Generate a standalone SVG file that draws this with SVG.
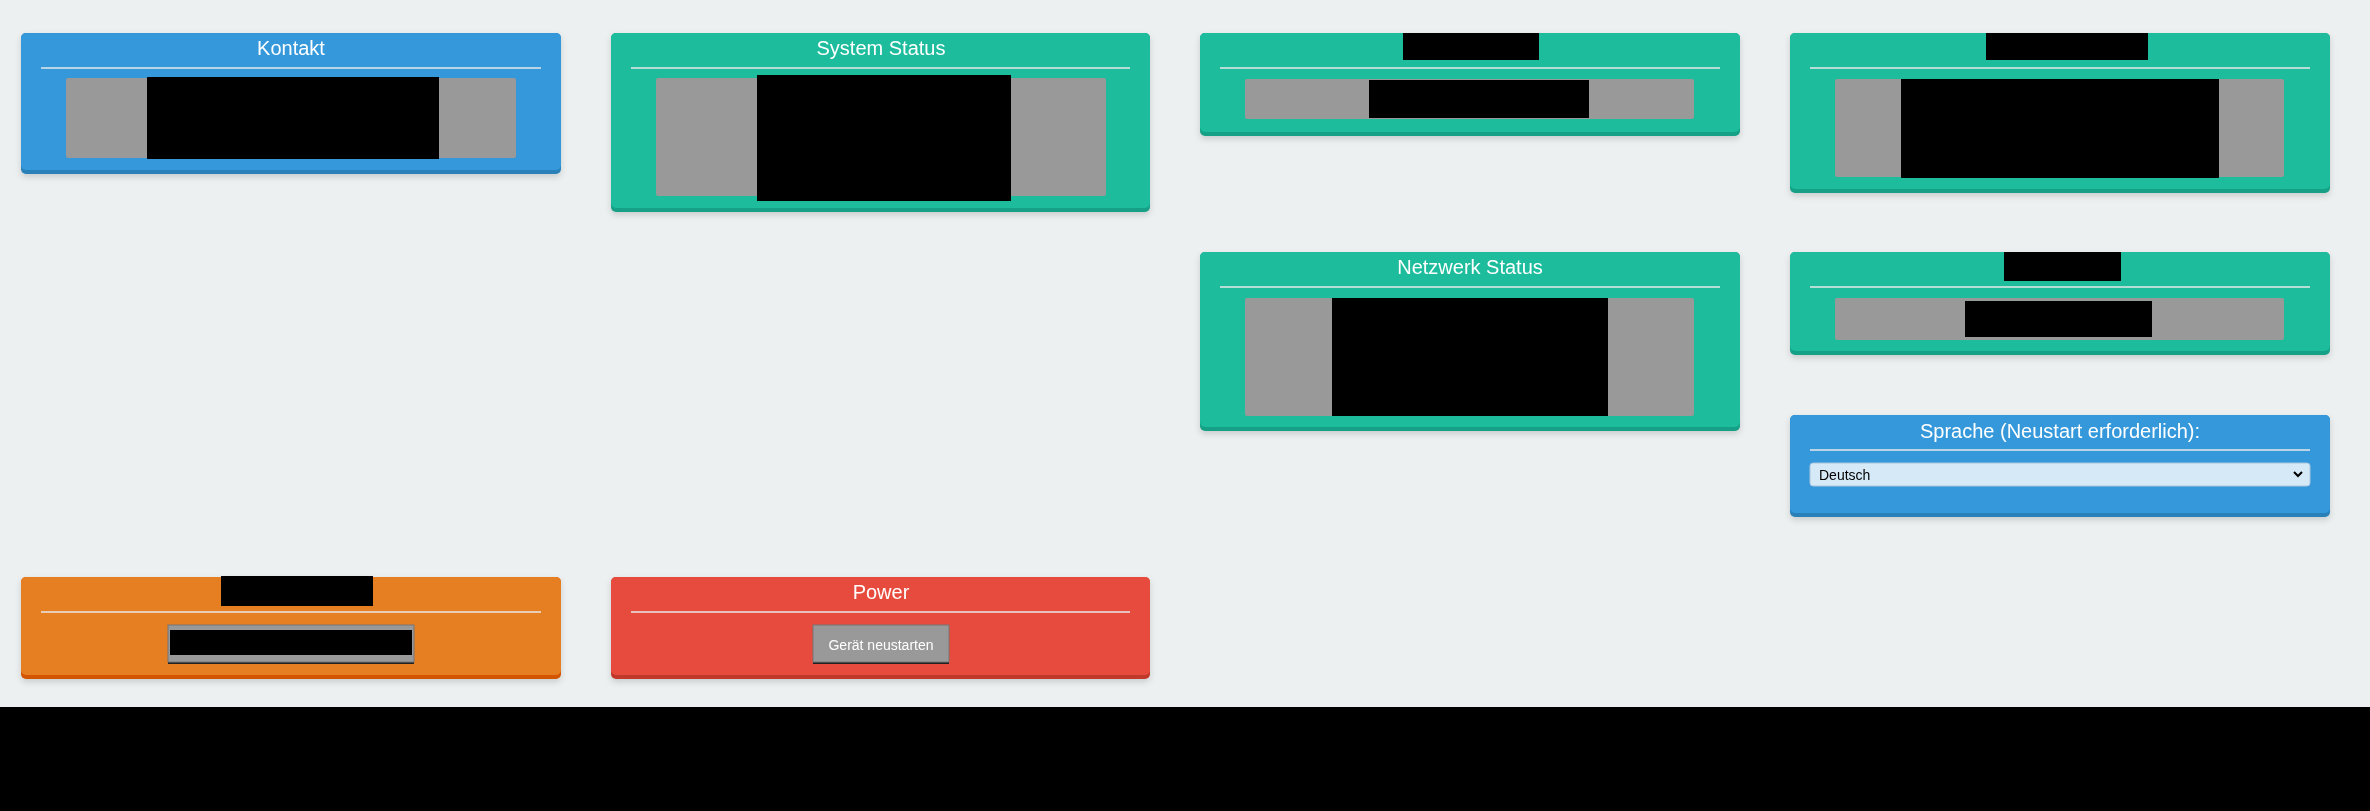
<svg xmlns="http://www.w3.org/2000/svg" width="2370" height="811" viewBox="0 0 2370 811">
<defs>
<filter id="sh" x="-5%" y="-10%" width="110%" height="130%"><feDropShadow dx="0" dy="3" stdDeviation="3" flood-color="#000" flood-opacity="0.15"/></filter>
</defs>
<style>
.t{font-family:"Liberation Sans",Arial,sans-serif;font-size:20px;fill:#fff;text-anchor:middle}
.sep{stroke:#e8e8e8;stroke-width:1.5}
.g{fill:#999}
.k{fill:#000}
</style>
<rect width="2370" height="811" fill="#ecf0f1"/>
<g id="kontakt" filter="url(#sh)">
<rect x="21" y="33" width="540" height="141" rx="5" fill="#2980b9"/>
<rect x="21" y="33" width="540" height="137" rx="5" fill="#3498db"/>
<text class="t" x="291" y="55">Kontakt</text>
<line class="sep" x1="41" y1="68" x2="541" y2="68"/>
<rect class="g" x="66" y="78" width="450" height="80" rx="2"/>
<rect class="k" x="147" y="77" width="292" height="82"/>
</g>
<g id="system-status" filter="url(#sh)">
<rect x="611" y="33" width="539" height="179" rx="5" fill="#16a085"/>
<rect x="611" y="33" width="539" height="175" rx="5" fill="#1abc9c"/>
<text class="t" x="881" y="55">System Status</text>
<line class="sep" x1="631" y1="68" x2="1130" y2="68"/>
<rect class="g" x="656" y="78" width="450" height="118" rx="2"/>
<rect class="k" x="757" y="75" width="254" height="126"/>
</g>
<g id="card3" filter="url(#sh)">
<rect x="1200" y="33" width="540" height="103" rx="5" fill="#16a085"/>
<rect x="1200" y="33" width="540" height="99" rx="5" fill="#1abc9c"/>
<rect class="k" x="1403" y="33" width="136" height="27"/>
<line class="sep" x1="1220" y1="68" x2="1720" y2="68"/>
<rect class="g" x="1245" y="79" width="449" height="40" rx="2"/>
<rect class="k" x="1369" y="80" width="220" height="38"/>
</g>
<g id="card4" filter="url(#sh)">
<rect x="1790" y="33" width="540" height="160" rx="5" fill="#16a085"/>
<rect x="1790" y="33" width="540" height="156" rx="5" fill="#1abc9c"/>
<rect class="k" x="1986" y="33" width="162" height="27"/>
<line class="sep" x1="1810" y1="68" x2="2310" y2="68"/>
<rect class="g" x="1835" y="79" width="449" height="98" rx="2"/>
<rect class="k" x="1901" y="79" width="318" height="99"/>
</g>
<g id="netzwerk-status" filter="url(#sh)">
<rect x="1200" y="252" width="540" height="179" rx="5" fill="#16a085"/>
<rect x="1200" y="252" width="540" height="175" rx="5" fill="#1abc9c"/>
<text class="t" x="1470" y="274">Netzwerk Status</text>
<line class="sep" x1="1220" y1="287" x2="1720" y2="287"/>
<rect class="g" x="1245" y="298" width="449" height="118" rx="2"/>
<rect class="k" x="1332" y="298" width="276" height="118"/>
</g>
<g id="card6" filter="url(#sh)">
<rect x="1790" y="252" width="540" height="103" rx="5" fill="#16a085"/>
<rect x="1790" y="252" width="540" height="99" rx="5" fill="#1abc9c"/>
<rect class="k" x="2004" y="252" width="117" height="29"/>
<line class="sep" x1="1810" y1="287" x2="2310" y2="287"/>
<rect class="g" x="1835" y="298" width="449" height="42" rx="2"/>
<rect class="k" x="1965" y="301" width="187" height="36"/>
</g>
<g id="sprache" filter="url(#sh)">
<rect x="1790" y="415" width="540" height="102" rx="5" fill="#2980b9"/>
<rect x="1790" y="415" width="540" height="98" rx="5" fill="#3498db"/>
<text class="t" x="2060" y="438">Sprache (Neustart erforderlich):</text>
<line class="sep" x1="1810" y1="450" x2="2310" y2="450"/>
<rect x="1810" y="463" width="500" height="23" rx="3" fill="#d6e9f7" stroke="#a9c6de" stroke-width="1"/>
<text x="1819" y="480" font-family="Liberation Sans,Arial,sans-serif" font-size="14" fill="#000">Deutsch</text>
<path d="M2294 472 l4 4 l4 -4" fill="none" stroke="#000" stroke-width="2"/>
</g>
<g id="orange-card" filter="url(#sh)">
<rect x="21" y="577" width="540" height="102" rx="5" fill="#d35400"/>
<rect x="21" y="577" width="540" height="98" rx="5" fill="#e67e22"/>
<rect class="k" x="221" y="576" width="152" height="30"/>
<line class="sep" x1="41" y1="612" x2="541" y2="612"/>
<rect x="168" y="625" width="246" height="39" fill="#222"/>
<rect x="168" y="625" width="246" height="37" fill="#999" stroke="#777" stroke-width="1"/>
<rect class="k" x="170" y="630" width="242" height="25"/>
</g>
<g id="power" filter="url(#sh)">
<rect x="611" y="577" width="539" height="102" rx="5" fill="#c0392b"/>
<rect x="611" y="577" width="539" height="98" rx="5" fill="#e74c3c"/>
<text class="t" x="881" y="599">Power</text>
<line class="sep" x1="631" y1="612" x2="1130" y2="612"/>
<rect x="813" y="625" width="136" height="39" fill="#222"/>
<rect x="813" y="625" width="136" height="37" fill="#999" stroke="#777" stroke-width="1"/>
<text x="881" y="650" font-family="Liberation Sans,Arial,sans-serif" font-size="14" fill="#fff" text-anchor="middle">Gerät neustarten</text>
</g>
<g id="connectors"></g>
<rect x="0" y="707" width="2370" height="104" fill="#000"/>
</svg>
